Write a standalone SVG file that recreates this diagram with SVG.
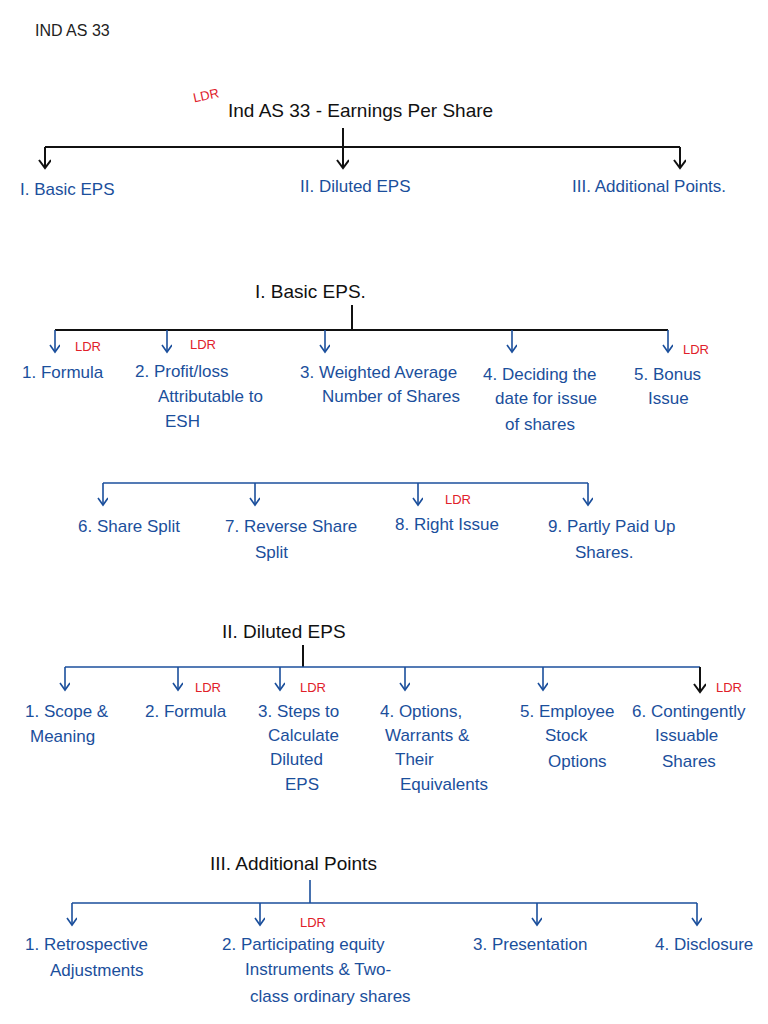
<svg xmlns="http://www.w3.org/2000/svg" width="768" height="1024" viewBox="0 0 768 1024">
<style>
.b{font-family:"Liberation Sans",Arial,sans-serif;font-size:17px;fill:#1b4f9c}
.k{font-family:"Liberation Sans",Arial,sans-serif;font-size:19px;fill:#111}
.r{font-family:"Liberation Sans",Arial,sans-serif;font-size:13px;fill:#e0202a}
.l{stroke:#111;stroke-width:2;fill:none}
.a{stroke:#1b4f9c;stroke-width:1.6;fill:none}
.la{stroke:#111;stroke-width:2;fill:none;marker-end:url(#mk)}
.aa{stroke:#1b4f9c;stroke-width:1.6;fill:none;marker-end:url(#m)}
</style>
<defs>
<marker id="m" markerWidth="10" markerHeight="12" refX="8" refY="5" orient="auto" markerUnits="userSpaceOnUse"><path d="M1,0 L8,5 L1,10" fill="none" stroke="#1b4f9c" stroke-width="1.6"/></marker>
<marker id="mk" markerWidth="12" markerHeight="14" refX="9" refY="6" orient="auto" markerUnits="userSpaceOnUse"><path d="M1,0 L9,6 L1,12" fill="none" stroke="#111" stroke-width="2"/></marker>
</defs>
<rect width="768" height="1024" fill="#fff"/>
<text x="35" y="36" font-family="Liberation Sans,Arial,sans-serif" font-size="16" fill="#222">IND AS 33</text>
<g id="connectors">
<path class="l" d="M343 128 V147 M45 147 H680"/>
<line class="la" x1="45" y1="147" x2="45" y2="168"/><line class="la" x1="343" y1="147" x2="343" y2="168"/><line class="la" x1="680" y1="147" x2="680" y2="168"/>
<path class="l" d="M352 305 V330 M55 330 H668"/>
<line class="aa" x1="55" y1="330" x2="55" y2="352"/><line class="aa" x1="167" y1="330" x2="167" y2="352"/><line class="aa" x1="325" y1="330" x2="325" y2="352"/><line class="aa" x1="512" y1="330" x2="512" y2="352"/><line class="aa" x1="668" y1="330" x2="668" y2="352"/>
<path class="a" d="M103 483 H588"/>
<line class="aa" x1="103" y1="483" x2="103" y2="505"/><line class="aa" x1="255" y1="483" x2="255" y2="505"/><line class="aa" x1="418" y1="483" x2="418" y2="505"/><line class="aa" x1="588" y1="483" x2="588" y2="505"/>
<path class="l" d="M303 645 V667"/><path class="a" d="M65 667 H700"/>
<line class="aa" x1="65" y1="667" x2="65" y2="690"/><line class="aa" x1="178" y1="667" x2="178" y2="690"/><line class="aa" x1="280" y1="667" x2="280" y2="690"/><line class="aa" x1="405" y1="667" x2="405" y2="690"/><line class="aa" x1="543" y1="667" x2="543" y2="690"/>
<line class="la" x1="700" y1="667" x2="700" y2="692"/>
<path class="a" d="M310 880 V903 M72 903 H697"/>
<line class="aa" x1="72" y1="903" x2="72" y2="925"/><line class="aa" x1="260" y1="903" x2="260" y2="925"/><line class="aa" x1="537" y1="903" x2="537" y2="925"/><line class="aa" x1="697" y1="903" x2="697" y2="925"/>
</g>
<g id="title"><text class="r" x="193" y="100" transform="rotate(-12 205 95)">LDR</text><text class="k" x="228" y="117">Ind AS 33 - Earnings Per Share</text></g>
<g id="n1"><text class="b" x="20" y="195">I. Basic EPS</text></g>
<g id="n2"><text class="b" x="300" y="192">II. Diluted EPS</text></g>
<g id="n3"><text class="b" x="572" y="192">III. Additional Points.</text></g>
<g id="s1"><text class="k" x="255" y="298">I. Basic EPS.</text></g>
<g id="b1"><text class="r" x="75" y="351">LDR</text><text class="b" x="22" y="378">1. Formula</text></g>
<g id="b2"><text class="r" x="190" y="349">LDR</text><text class="b" x="135" y="377">2. Profit/loss</text><text class="b" x="158" y="402">Attributable to</text><text class="b" x="165" y="427">ESH</text></g>
<g id="b3"><text class="b" x="300" y="378">3. Weighted Average</text><text class="b" x="322" y="402">Number of Shares</text></g>
<g id="b4"><text class="b" x="483" y="380">4. Deciding the</text><text class="b" x="495" y="404">date for issue</text><text class="b" x="505" y="430">of shares</text></g>
<g id="b5"><text class="r" x="683" y="354">LDR</text><text class="b" x="634" y="380">5. Bonus</text><text class="b" x="648" y="404">Issue</text></g>
<g id="b6"><text class="b" x="78" y="532">6. Share Split</text></g>
<g id="b7"><text class="b" x="225" y="532">7. Reverse Share</text><text class="b" x="255" y="558">Split</text></g>
<g id="b8"><text class="r" x="445" y="504">LDR</text><text class="b" x="395" y="530">8. Right Issue</text></g>
<g id="b9"><text class="b" x="548" y="532">9. Partly Paid Up</text><text class="b" x="575" y="558">Shares.</text></g>
<g id="s2"><text class="k" x="222" y="638">II. Diluted EPS</text></g>
<g id="d1"><text class="b" x="25" y="717">1. Scope &amp;</text><text class="b" x="30" y="742">Meaning</text></g>
<g id="d2"><text class="r" x="195" y="692">LDR</text><text class="b" x="145" y="717">2. Formula</text></g>
<g id="d3"><text class="r" x="300" y="692">LDR</text><text class="b" x="258" y="717">3. Steps to</text><text class="b" x="268" y="741">Calculate</text><text class="b" x="270" y="765">Diluted</text><text class="b" x="285" y="790">EPS</text></g>
<g id="d4"><text class="b" x="380" y="717">4. Options,</text><text class="b" x="385" y="741">Warrants &amp;</text><text class="b" x="395" y="765">Their</text><text class="b" x="400" y="790">Equivalents</text></g>
<g id="d5"><text class="b" x="520" y="717">5. Employee</text><text class="b" x="545" y="741">Stock</text><text class="b" x="548" y="767">Options</text></g>
<g id="d6"><text class="r" x="716" y="692">LDR</text><text class="b" x="632" y="717">6. Contingently</text><text class="b" x="655" y="741">Issuable</text><text class="b" x="662" y="767">Shares</text></g>
<g id="s3"><text class="k" x="210" y="870">III. Additional Points</text></g>
<g id="a1"><text class="b" x="25" y="950">1. Retrospective</text><text class="b" x="50" y="976">Adjustments</text></g>
<g id="a2"><text class="r" x="300" y="927">LDR</text><text class="b" x="222" y="950">2. Participating equity</text><text class="b" x="245" y="975">Instruments &amp; Two-</text><text class="b" x="250" y="1002">class ordinary shares</text></g>
<g id="a3"><text class="b" x="473" y="950">3. Presentation</text></g>
<g id="a4"><text class="b" x="655" y="950">4. Disclosure</text></g>
</svg>
